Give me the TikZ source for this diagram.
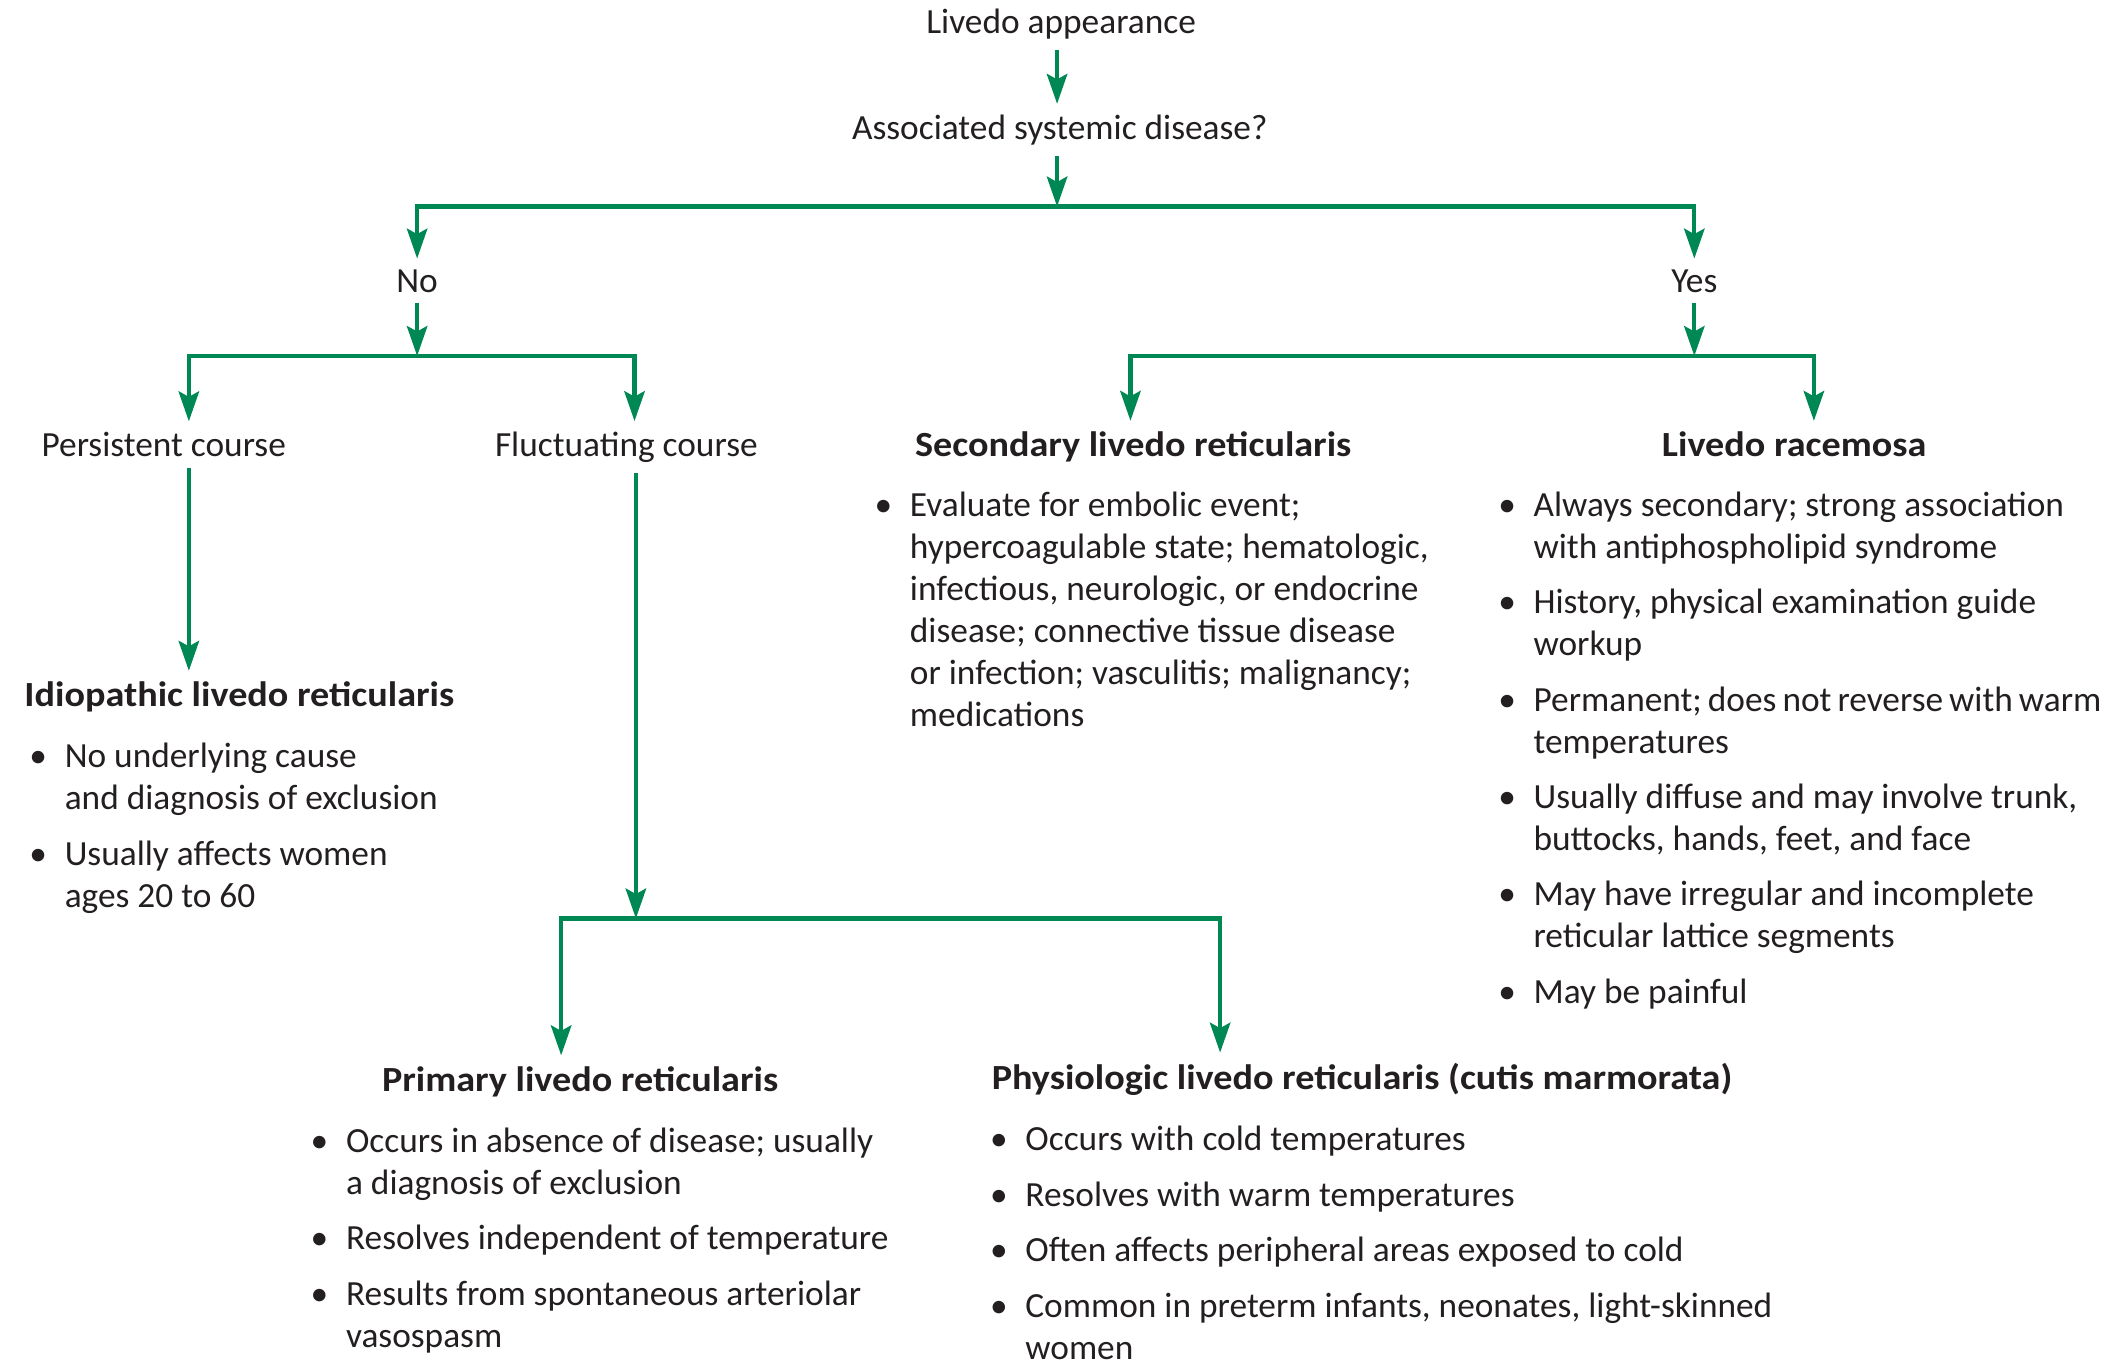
\documentclass[tikz,border=0pt]{standalone}
\usepackage{fontspec}
\setmainfont{Carlito}[BoldFeatures={FakeStretch=1.08}]
\usepackage{xcolor}
\usetikzlibrary{arrows.meta,positioning}
\definecolor{flowgreen}{RGB}{0,136,84}
\definecolor{txtgray}{RGB}{35,31,32}
\newcommand{\fsz}{\fontsize{7.4pt}{8.8pt}\selectfont}
\newcommand{\bl}{\textbullet}

\begin{document}
\begin{tikzpicture}[
    lbl/.style={inner sep=0pt, outer sep=0.08cm, anchor=base, font=\fsz, text=txtgray},
    head/.style={lbl, font=\fsz\bfseries},
    blist/.style={inner sep=0pt, anchor=base west, font=\fsz, text=txtgray},
    arr/.style={-{Stealth[length=2.2mm,width=1.5mm,inset=0.4mm]}, draw=flowgreen, line width=0.9pt}
  ]
  \useasboundingbox (0,0) rectangle (15.5,-10.032);

  % Top of the tree
  \node[lbl] (app) at (7.81,-0.245) {Livedo appearance};
  \node[lbl] (asd) at (7.80,-1.025) {Associated systemic disease?};
  \coordinate (j1) at (7.78,-1.52);
  \draw[arr] (app.south -| j1) -- (asd.north -| j1);
  \draw[arr] (asd.south -| j1) -- (j1);

  % No / Yes
  \node[lbl] (no) at (3.07,-2.15) {No};
  \node[lbl] (yes) at (12.47,-2.15) {Yes};
  \draw[arr] (j1) -| (no.north);
  \draw[arr] (j1) -| (yes.north);
  \coordinate (j2) at (3.07,-2.62);
  \coordinate (j3) at (12.47,-2.62);
  \draw[arr] (no) -- (j2);
  \draw[arr] (yes) -- (j3);

  % Second level
  \node[lbl] (pers) at (1.205,-3.36) {Persistent course};
  \node[lbl] (flu) at (4.61,-3.36) {Fluctuating course};
  \node[head] (sec) at (8.34,-3.36) {Secondary livedo reticularis};
  \node[head] (rac) at (13.205,-3.36) {Livedo racemosa};
  \draw[arr] (j2) -| ([xshift=0.185cm]pers.north);
  \draw[arr] (j2) -| ([xshift=0.06cm]flu.north);
  \draw[arr] (j3) -| ([xshift=-0.02cm]sec.north);
  \draw[arr] (j3) -| ([xshift=0.145cm]rac.north);

  \node[blist] (secl) at (6.43,-3.80) {\begin{tabular}[t]{@{}p{0.26cm}@{}l@{}}
    \bl & Evaluate for embolic event;\\
        & hypercoagulable state; hematologic,\\
        & infectious, neurologic, or endocrine\\
        & disease; connective tissue disease\\
        & or infection; vasculitis; malignancy;\\
        & medications
  \end{tabular}};
  \node[blist] (racl) at (11.02,-3.80) {\begin{tabular}[t]{@{}p{0.26cm}@{}l@{}}
    \bl & Always secondary; strong association\\
        & with antiphospholipid syndrome\\[2.8pt]
    \bl & History, physical examination guide\\
        & workup\\[2.8pt]
    \bl & {\spaceskip=0.17em Permanent; does not reverse with warm}\\
        & temperatures\\[2.8pt]
    \bl & Usually diffuse and may involve trunk,\\
        & buttocks, hands, feet, and face\\[2.8pt]
    \bl & May have irregular and incomplete\\
        & reticular lattice segments\\[2.8pt]
    \bl & May be painful
  \end{tabular}};

  % Persistent branch
  \node[head, anchor=base west] (idio) at (0.10,-5.20) {Idiopathic livedo reticularis};
  \draw[arr] ([xshift=0.185cm]pers.south) -- ([xshift=0.185cm]pers.south |- idio.north);
  \node[blist] (idiol) at (0.21,-5.65) {\begin{tabular}[t]{@{}p{0.26cm}@{}l@{}}
    \bl & No underlying cause\\
        & and diagnosis of exclusion\\[2.8pt]
    \bl & Usually affects women\\
        & ages 20 to 60
  \end{tabular}};

  % Fluctuating branch
  \coordinate (j4) at (4.68,-6.76);
  \draw[arr] (flu.south -| j4) -- (j4);
  \node[head] (prim) at (4.27,-8.03) {Primary livedo reticularis};
  \node[head] (phys) at (10.025,-8.02) {Physiologic livedo reticularis (cutis marmorata)};
  \draw[arr] (j4) -| ([xshift=-0.14cm]prim.north);
  \draw[arr] (j4) -| ([xshift=-1.045cm]phys.north);

  \node[blist] (priml) at (2.28,-8.48) {\begin{tabular}[t]{@{}p{0.26cm}@{}l@{}}
    \bl & Occurs in absence of disease; usually\\
        & a diagnosis of exclusion\\[2.8pt]
    \bl & Resolves independent of temperature\\[2.8pt]
    \bl & Results from spontaneous arteriolar\\
        & vasospasm
  \end{tabular}};
  \node[blist] (physl) at (7.28,-8.47) {\begin{tabular}[t]{@{}p{0.26cm}@{}l@{}}
    \bl & Occurs with cold temperatures\\[2.8pt]
    \bl & Resolves with warm temperatures\\[2.8pt]
    \bl & Often affects peripheral areas exposed to cold\\[2.8pt]
    \bl & Common in preterm infants, neonates, light-skinned\\
        & women
  \end{tabular}};
\end{tikzpicture}
\end{document}
